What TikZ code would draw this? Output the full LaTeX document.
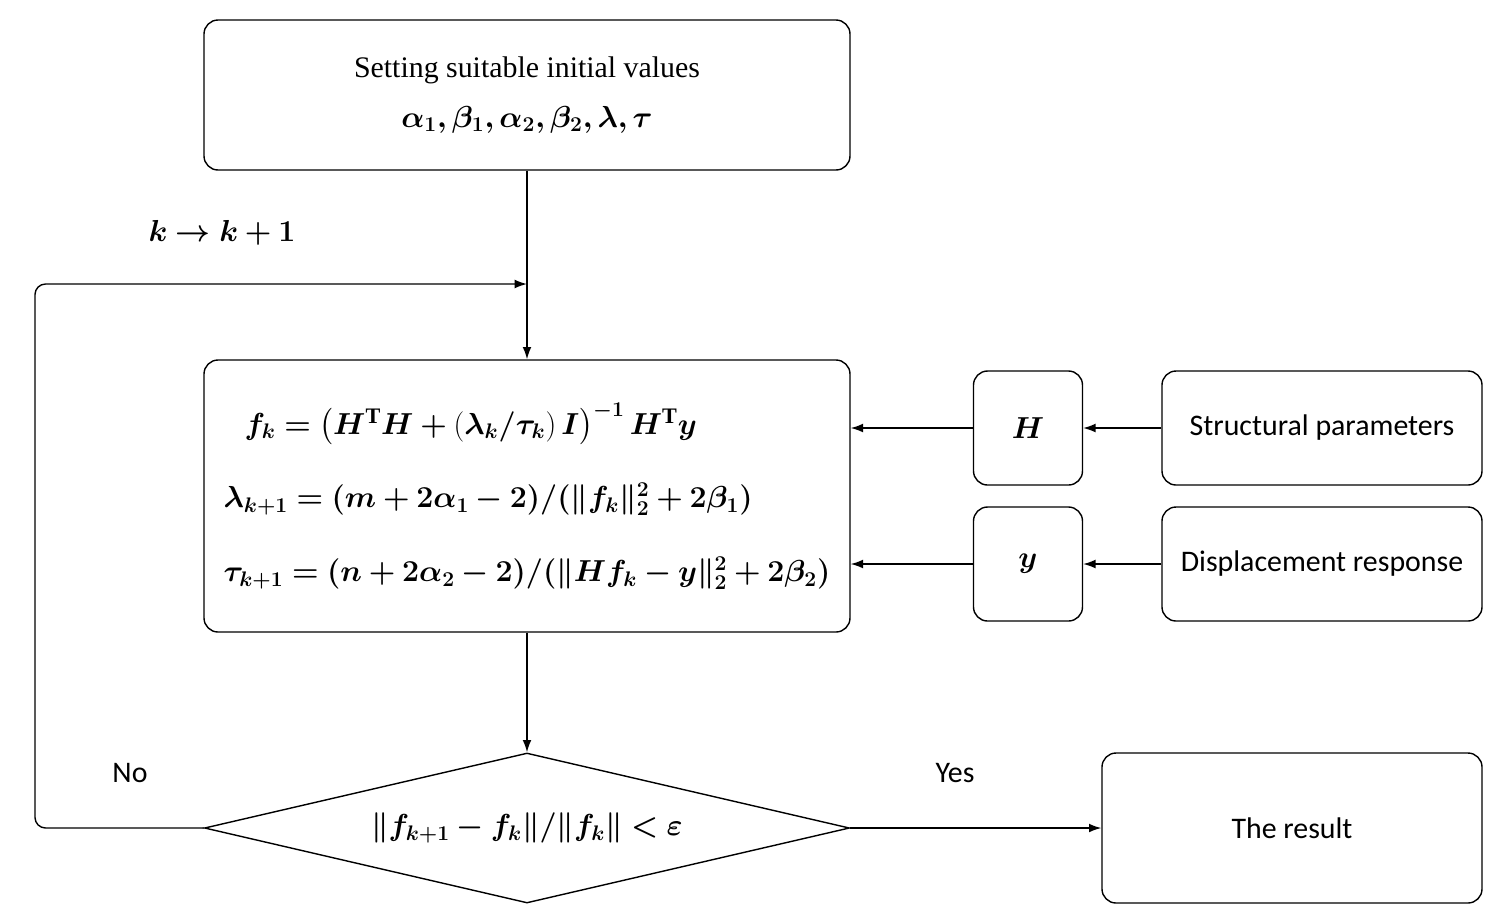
\documentclass[tikz,border=0pt]{standalone}
\usepackage{amsmath,bm}
\usepackage{fontspec}
\setmainfont{Liberation Serif}
\newfontfamily\sansf{Carlito}
\usetikzlibrary{shapes.geometric,arrows.meta}
\begin{document}
\begin{tikzpicture}[x=0.02cm,y=-0.02cm,
 box/.style={draw,rounded corners=8pt,line width=0.8pt,inner sep=0pt},
 arr/.style={-{Latex[length=7pt,width=5pt]},line width=0.8pt},
 lab/.style={font=\sansf\fontsize{17}{20}\selectfont},
 mth/.style={font=\fontsize{18}{24}\selectfont}]
\useasboundingbox (0,0) rectangle (1495,921);
\node[box,minimum width=646*0.02cm,minimum height=150*0.02cm,align=center,mth] (top) at (527,95)
 {\fontsize{17}{20}\selectfont Setting suitable initial values\\[4pt] $\bm{\alpha_1,\beta_1,\alpha_2,\beta_2,\lambda,\tau}$};
\node[box,minimum width=646*0.02cm,minimum height=272*0.02cm,align=left,mth] (main) at (527,496)
 {\hspace*{12pt}$\bm{f_k=\left(H^{\mathrm{T}}H+\left(\lambda_k/\tau_k\right)I\right)^{-1}H^{\mathrm{T}}y}$\\[18pt]
  $\bm{\lambda_{k+1}=(m+2\alpha_1-2)/(\|f_k\|_2^2+2\beta_1)}$\\[18pt]
  $\bm{\tau_{k+1}=(n+2\alpha_2-2)/(\|Hf_k-y\|_2^2+2\beta_2)}$};
\node[box,minimum width=109*0.02cm,minimum height=114*0.02cm,mth] (H) at (1028,428) {$\bm{H}$};
\node[box,minimum width=109*0.02cm,minimum height=114*0.02cm,mth] (Y) at (1028,564) {$\bm{y}$};
\node[box,minimum width=320*0.02cm,minimum height=114*0.02cm,lab] (sp) at (1322,428) {Structural parameters};
\node[box,minimum width=320*0.02cm,minimum height=114*0.02cm,lab] (dr) at (1322,564) {Displacement response};
\node[draw,diamond,aspect=4.3,line width=0.8pt,minimum width=645*0.02cm,minimum height=150*0.02cm,inner sep=0pt,mth] (dec) at (527,828) {$\bm{\|f_{k+1}-f_k\|/\|f_k\|<\varepsilon}$};
\node[box,minimum width=380*0.02cm,minimum height=150*0.02cm,lab] (res) at (1292,828) {The result};
\coordinate (c1) at (35,828); \coordinate (c2) at (35,284); \coordinate (c3) at (527,284);
\draw[arr] (top) -- (main);
\draw[arr] (main) -- (dec);
\draw[arr] (H) -- (main.east|-H);
\draw[arr] (Y) -- (main.east|-Y);
\draw[arr] (sp) -- (H);
\draw[arr] (dr) -- (Y);
\draw[arr] (dec) -- (res);
\draw[arr,rounded corners=6pt] (dec.west) -- (c1) -- (c2) -- (c3);
\node[lab] (no) at (130,773) {No};
\node[lab] (yes) at (955,773) {Yes};
\node[mth] (kk) at (222,233) {$\bm{k\rightarrow k+1}$};
\end{tikzpicture}
\end{document}
